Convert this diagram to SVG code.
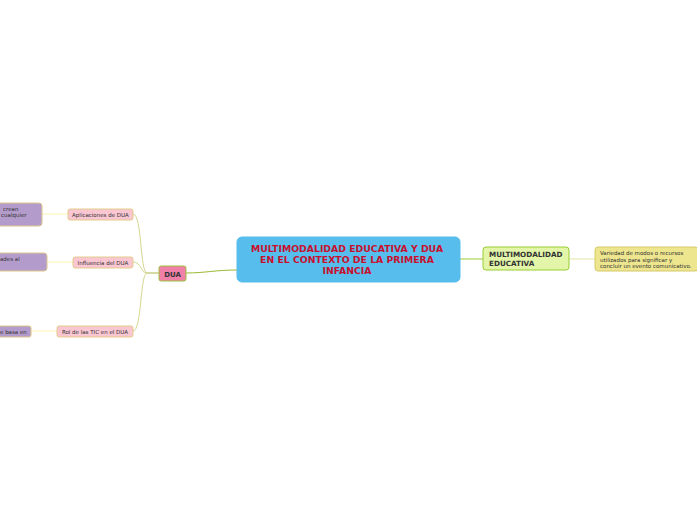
<svg xmlns="http://www.w3.org/2000/svg" width="697" height="520" viewBox="0 0 697 520">
<style>
text{font-family:"DejaVu Sans","Verdana",sans-serif;}
.lnk{fill:none;stroke-width:1;}
.main{fill:#56bdec;stroke:#56bdec;}
.mt{font-size:9.3px;font-weight:bold;fill:#c8102e;text-anchor:middle;}
.sub{fill:#e2f5a8;stroke:#9acd32;stroke-width:1;}
.st{font-size:7.2px;font-weight:bold;fill:#333333;}
.note{fill:#ede68e;stroke:#d6c96b;stroke-width:1;}
.nt{font-size:5.5px;fill:#333333;}
.dua{fill:#f080a8;stroke:#a0c040;stroke-width:1;}
.pk{fill:#f9c6d2;stroke:#e2cc8a;stroke-width:1;}
.pt{font-size:5.5px;fill:#333333;text-anchor:middle;}
.pu{fill:#b39ccb;stroke:#dcc88a;stroke-width:1;}
.ut{font-size:5.5px;fill:#333333;}
</style>
<rect width="697" height="520" fill="#ffffff"/>
<g id="connectors">
<path class="lnk" stroke="#9ab832" d="M237,270 C215,270 205,273 186,273"/>
<path class="lnk" stroke="#9acd32" d="M460,259 L483,259"/>
<path class="lnk" stroke="#e6e6a8" d="M569,259 L595,259"/>
<path class="lnk" stroke="#a8b848" d="M159,273 L147,273"/>
<path class="lnk" stroke="#d6d690" d="M147,273 C140,273 142,214 133,214"/>
<path class="lnk" stroke="#d6d690" d="M147,273 C140,273 142,262 133,262"/>
<path class="lnk" stroke="#d6d690" d="M147,273 C140,273 142,331 133,331"/>
<path class="lnk" stroke="#fdf3b0" d="M68,214 L42,214"/>
<path class="lnk" stroke="#fdf3b0" d="M73,262 L47,262"/>
<path class="lnk" stroke="#fdf3b0" d="M57,331 L31,331"/>
</g>
<g id="central">
<rect class="main" x="237" y="237" width="223" height="45" rx="5"/>
<text class="mt" x="347" y="252">MULTIMODALIDAD EDUCATIVA Y DUA</text>
<text class="mt" x="347" y="263">EN EL CONTEXTO DE LA PRIMERA</text>
<text class="mt" x="347" y="274">INFANCIA</text>
</g>
<g id="multimodalidad">
<rect class="sub" x="483" y="247" width="86" height="23" rx="3"/>
<text class="st" x="489" y="257">MULTIMODALIDAD</text>
<text class="st" x="489" y="266">EDUCATIVA</text>
</g>
<g id="variedad">
<rect class="note" x="595" y="247" width="103" height="24" rx="3"/>
<text class="nt" x="600" y="255">Variedad de modos o recursos</text>
<text class="nt" x="600" y="261.5">utilizados para significar y</text>
<text class="nt" x="600" y="268">concluir un evento comunicativo.</text>
</g>
<g id="dua">
<rect class="dua" x="159" y="266" width="27" height="15" rx="2"/>
<text x="172.5" y="276.5" font-size="7" font-weight="bold" fill="#333333" text-anchor="middle">DUA</text>
</g>
<g id="aplicaciones">
<rect class="pk" x="68" y="209" width="65" height="11" rx="2"/>
<text class="pt" x="100.5" y="216.5">Aplicaciones de DUA</text>
</g>
<g id="influencia">
<rect class="pk" x="73" y="257" width="60" height="11" rx="2"/>
<text class="pt" x="103" y="264.5">Influencia del DUA</text>
</g>
<g id="rol">
<rect class="pk" x="57" y="326" width="76" height="11" rx="2"/>
<text class="pt" x="95" y="333.5">Rol de las TIC en el DUA</text>
</g>
<g id="purple1">
<rect class="pu" x="-10" y="203" width="52" height="23" rx="3"/>
<text class="ut" x="3" y="211">crean</text>
<text class="ut" x="1" y="217">cualquier</text>
</g>
<g id="purple2">
<rect class="pu" x="-10" y="253" width="57" height="18" rx="3"/>
<text class="ut" x="0" y="261">ades al</text>
</g>
<g id="purple3">
<rect class="pu" x="-10" y="326" width="41" height="11" rx="2"/>
<text class="ut" x="0" y="333.5">e basa en</text>
</g>
</svg>
